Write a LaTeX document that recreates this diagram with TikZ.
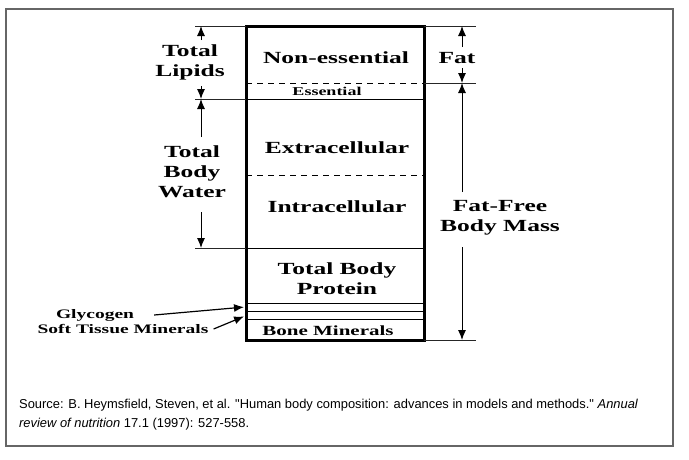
\documentclass[tikz,border=0pt]{standalone}
\usepackage{fontspec}
\setmainfont{Liberation Serif}
\setsansfont{Liberation Sans}
\newfontfamily\layerfont{Liberation Serif}[FakeStretch=1.5]
\usetikzlibrary{arrows.meta,positioning,calc}
\tikzset{
>={Latex[length=10pt,width=8pt]},
  layer/.style={
    font=\layerfont\bfseries\fontsize{17}{20}\selectfont,
    align=center,
    inner sep=0pt},
  smalllayer/.style={
    font=\layerfont\bfseries\fontsize{12}{14}\selectfont,
    inner sep=0pt},
  pointer/.style={
    font=\layerfont\bfseries\fontsize{13}{15}\selectfont,
    inner sep=0pt},
  wall/.style={draw=black, line width=3pt},
  split/.style={draw=black, line width=0.9pt},
  splitdash/.style={split, dash pattern=on 6pt off 5pt},
  rule/.style={draw=black!85, line width=0.9pt},
  measure/.style={->, line width=1pt},
  pointarrow/.style={->, line width=1.2pt, shorten >=1pt},
}

\begin{document}
\begin{tikzpicture}[x=1pt,y=-1pt]
    \useasboundingbox (0,0) rectangle (689,459);
    \draw[black!60, line width=1.3pt] (6,9) rectangle (673,446);

% the column of compartments
    \draw[split] (246,99) -- (424,99);
    \draw[splitdash] (246,83) -- (424,83);
    \draw[splitdash] (246,175) -- (424,175);
    \draw[split] (246,248) -- (424,248);
    \draw[split] (246,303) -- (424,303);
    \draw[split] (246,311) -- (424,311);
    \draw[split] (246,319) -- (424,319);
    \draw[wall] (246,26) rectangle (424,340);

% rulers
    \draw[rule] (195,26) -- (246,26);
    \draw[rule] (195,99) -- (246,99);
    \draw[rule] (195,248) -- (246,248);
    \draw[rule] (424,26) -- (476,26);
    \draw[rule] (424,83) -- (476,83);
    \draw[rule] (424,340) -- (476,340);

    \coordinate (lipidtop) at (201,26);
    \coordinate (lipidbot) at (201,99);
    \coordinate (waterbot) at (201,248);
    \coordinate (fattop) at (462,26);
    \coordinate (fatbot) at (462,83);
    \coordinate (ffmbot) at (462,340);

% labels in the column
    \node[layer] (nonessential) at (336,58) {Non-essential};
    \node[smalllayer] (essential) at (327,91) {Essential};
    \node[layer] (extra) at (337,148) {Extracellular};
    \node[layer] (intra) at (337,207) {Intracellular};
    \node[layer] (protein) at (337,279) {Total Body\\Protein};
    \node[layer, font=\layerfont\bfseries\fontsize{14}{16}\selectfont] (bone) at (328,331) {Bone Minerals};

% labels on the left
    \node[layer] (lipids) at (190,62) {Total\\Lipids};
    \node[layer] (water) at (192,172) {Total\\Body\\Water};
    \node[pointer] (glycogen) at (95,315) {Glycogen};
    \node[pointer] (softmin) at (123,329) {Soft Tissue Minerals};

% labels on the right
    \node[layer] (fat) at (457,58) {Fat};
    \node[layer] (ffm) at (500,218) {Fat-Free\\Body Mass};

% measuring arrows
    \draw[measure] (201,40) -- (lipidtop);
    \draw[measure] (201,86) -- (lipidbot);
    \draw[measure] (201,137) -- (lipidbot);
    \draw[measure] (201,212) -- (waterbot);
    \draw[measure] (462,47) -- (fattop);
    \draw[measure] (462,68) -- (fatbot);
    \draw[measure] (462,192) -- (fatbot);
    \draw[measure] (462,247) -- (ffmbot);

    \draw[pointarrow] (glycogen.east) ++(20,0) -- (245,307);
    \draw[pointarrow] (softmin.east) ++(5,0) -- (245,316);

% source line
    \node[anchor=north west, align=left, inner sep=0pt,
      font=\sffamily\fontsize{12.9}{19}\selectfont] (source) at (19,399)
      {Source: B. Heymsfield, Steven, et al. \textquotedbl Human body composition: advances in models and methods.\textquotedbl\ \textit{Annual}\\
       \textit{review of nutrition} 17.1 (1997): 527-558.};
\end{tikzpicture}
\end{document}
